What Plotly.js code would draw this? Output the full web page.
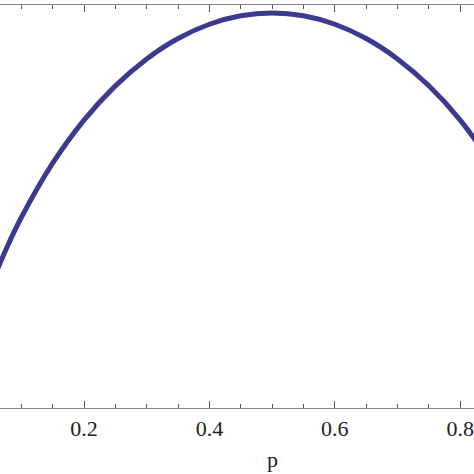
<!DOCTYPE html>
<html>
<head>
<meta charset="utf-8">
<script src="https://cdn.plot.ly/plotly-3.0.1.min.js"></script>
<style>
  html, body { margin: 0; padding: 0; background: #fff; }
  #chart { width: 474px; height: 474px; }
</style>
</head>
<body>
<div id="chart"></div>
<script>
// values
const pVals = [0.06, 0.08, 0.10, 0.15, 0.20, 0.25, 0.30, 0.35, 0.40, 0.45, 0.50,
               0.55, 0.60, 0.65, 0.70, 0.75, 0.80, 0.85];
const hVals = [0.327, 0.402, 0.469, 0.610, 0.722, 0.811, 0.881, 0.934, 0.971, 0.993, 1.000,
               0.993, 0.971, 0.934, 0.881, 0.811, 0.722, 0.610];
const xTicks = [0.2, 0.4, 0.6, 0.8];
const xTickText = ['0.2', '0.4', '0.6', '0.8'];
const xLabel = 'p';
const xLabelAt = 0.5;

const serif = 'Liberation Serif, serif';

const trace = {
    x: pVals,
    y: hVals,
    mode: 'lines',
    type: 'scatter',
    line: { color: '#3b3b8e', width: 5, shape: 'spline', smoothing: 1 },
    hoverinfo: 'skip'
};

const layout = {
    width: 474,
    height: 474,
    margin: { l: 0, r: 0, t: 5, b: 66 },
    paper_bgcolor: '#ffffff',
    plot_bgcolor: '#ffffff',
    showlegend: false,
    font: { family: serif, size: 22, color: '#222' },
    xaxis: {
        range: [0.066, 0.822],
        tickvals: xTicks,
        ticktext: xTickText,
        ticks: 'inside',
        ticklen: 7,
        tickwidth: 1,
        tickcolor: '#555',
        showline: true,
        linecolor: '#888',
        linewidth: 1.2,
        mirror: 'ticks',
        showgrid: false,
        zeroline: false,
        minor: { dtick: 0.05, tick0: 0, ticks: 'inside', ticklen: 4, tickcolor: '#555', showgrid: false },
        tickfont: { family: serif, size: 22, color: '#222' }
    },
    yaxis: {
        range: [-0.026, 1.021],
        visible: false,
        showgrid: false,
        zeroline: false
    },
    // axis title sits under p = 0.5 (the full plot's centre), so place it as an annotation
    annotations: [{
        text: xLabel,
        xref: 'x', x: xLabelAt,
        yref: 'paper', y: 0,
        xanchor: 'center', yanchor: 'top',
        yshift: -37,
        showarrow: false,
        font: { family: serif, size: 22, color: '#222' }
    }]
};

Plotly.newPlot('chart', [trace], layout, { displayModeBar: false, staticPlot: true });
</script>
</body>
</html>
